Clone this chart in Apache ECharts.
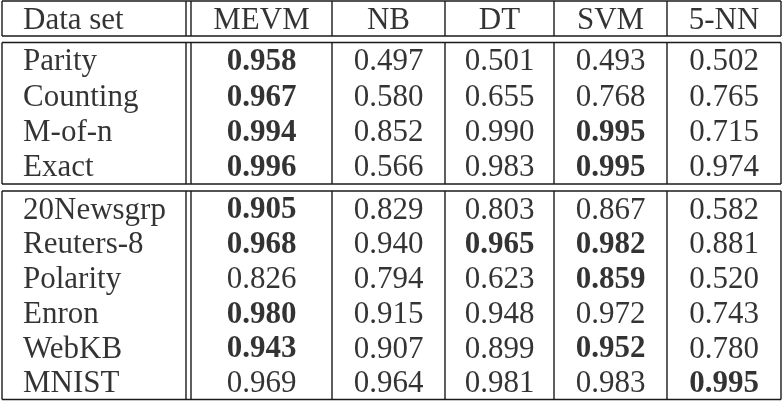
<!DOCTYPE html>
<html>
<head>
<meta charset="utf-8">
<script src="https://cdn.jsdelivr.net/npm/echarts@6/dist/echarts.min.js"></script>
<style>
html,body{margin:0;padding:0;background:#fff;}
#chart{width:783px;height:405px;}
</style>
</head>
<body>
<div id="chart"></div>
<script>
// ---- data ----
const headerFirst = 'Data set';
const methods = ['MEVM', 'NB', 'DT', 'SVM', '5-NN'];
const datasets = ['Parity', 'Counting', 'M-of-n', 'Exact', '20Newsgrp', 'Reuters-8', 'Polarity', 'Enron', 'WebKB', 'MNIST'];
const mevm = [0.958, 0.967, 0.994, 0.996, 0.905, 0.968, 0.826, 0.980, 0.943, 0.969];
const nb   = [0.497, 0.580, 0.852, 0.566, 0.829, 0.940, 0.794, 0.915, 0.907, 0.964];
const dt   = [0.501, 0.655, 0.990, 0.983, 0.803, 0.965, 0.623, 0.948, 0.899, 0.981];
const svm  = [0.493, 0.768, 0.995, 0.995, 0.867, 0.982, 0.859, 0.972, 0.952, 0.983];
const knn  = [0.502, 0.765, 0.715, 0.974, 0.582, 0.881, 0.520, 0.743, 0.780, 0.995];
// bold (best) entries per method, by dataset name
const boldMEVM = ['Parity', 'Counting', 'M-of-n', 'Exact', '20Newsgrp', 'Reuters-8', 'Enron', 'WebKB'];
const boldNB   = [];
const boldDT   = ['Reuters-8'];
const boldSVM  = ['M-of-n', 'Exact', 'Reuters-8', 'Polarity', 'WebKB'];
const boldKNN  = ['MNIST'];
const group1Size = 4; // synthetic datasets, then real ones

// ---- layout (table geometry, in the 783x405 axis space) ----
const W = 783, H = 405;
const colEdges = [2, 186, 191, 332, 445, 554, 667, 781]; // left, double rule (2), inner rules, right
const boxes = [[1, 36], [42.5, 184], [191, 399.5]];      // header, group 1, group 2 (top, bottom)
const textLeftX = 23;
const fontSize = 31;
const textDy = 2;

const valueCols = [mevm, nb, dt, svm, knn];
const boldCols = [boldMEVM, boldNB, boldDT, boldSVM, boldKNN];
const colCenters = [
  (colEdges[2] + colEdges[3]) / 2,
  (colEdges[3] + colEdges[4]) / 2,
  (colEdges[4] + colEdges[5]) / 2,
  (colEdges[5] + colEdges[6]) / 2,
  (colEdges[6] + colEdges[7]) / 2
];
function rowCenter(r) { // r = -1 header, 0..9 data rows
  if (r < 0) return (boxes[0][0] + boxes[0][1]) / 2;
  if (r < group1Size) {
    const h = (boxes[1][1] - boxes[1][0]) / group1Size;
    return boxes[1][0] + h * (r + 0.5);
  }
  const n = datasets.length - group1Size;
  const h = (boxes[2][1] - boxes[2][0]) / n;
  return boxes[2][0] + h * (r - group1Size + 0.5);
}

const FONT_FAMILY = 'Liberation Serif';
const LINE = '#1a1a1a';
const LW = 1.4;

// cell items for a scatter series with labels only
function cellItem(r, c, text, bold) {
  const left = c < 0;
  return {
    value: [left ? textLeftX : colCenters[c], rowCenter(r) + textDy],
    label: {
      formatter: text,
      align: left ? 'left' : 'center',
      fontWeight: bold ? 'bold' : 'normal'
    }
  };
}
const cells = [];
cells.push(cellItem(-1, -1, headerFirst, false));
methods.forEach((m, c) => cells.push(cellItem(-1, c, m, false)));
datasets.forEach((d, r) => {
  cells.push(cellItem(r, -1, d, false));
  valueCols.forEach((col, c) => {
    cells.push(cellItem(r, c, col[r].toFixed(3), boldCols[c].indexOf(d) >= 0));
  });
});

const chart = echarts.init(document.getElementById('chart'), null, {renderer: 'canvas'});
chart.setOption({
  animation: false,
  backgroundColor: '#ffffff',
  grid: {left: 0, right: 0, top: 0, bottom: 0},
  xAxis: {type: 'value', min: 0, max: W, show: false},
  yAxis: {type: 'value', min: 0, max: H, inverse: true, show: false},
  series: [
    {
      type: 'custom',
      silent: true,
      data: [[0]],
      renderItem: function (params, api) {
        const children = [];
        const seg = (x1, y1, x2, y2) => {
          const p1 = api.coord([x1, y1]);
          const p2 = api.coord([x2, y2]);
          children.push({
            type: 'line',
            shape: {x1: p1[0], y1: p1[1], x2: p2[0], y2: p2[1]},
            style: {stroke: LINE, lineWidth: LW}
          });
        };
        boxes.forEach(b => {
          const top = b[0], bot = b[1];
          seg(colEdges[0], top, colEdges[colEdges.length - 1], top);
          seg(colEdges[0], bot, colEdges[colEdges.length - 1], bot);
          colEdges.forEach(x => seg(x, top, x, bot));
        });
        return {type: 'group', children: children};
      }
    },
    {
      type: 'scatter',
      silent: true,
      symbol: 'circle',
      symbolSize: 1,
      itemStyle: {color: 'rgba(255,255,255,0)'},
      data: cells,
      label: {
        show: true,
        position: 'inside',
        verticalAlign: 'middle',
        color: '#000',
        fontSize: fontSize,
        fontFamily: FONT_FAMILY
      },
      labelLayout: {hideOverlap: false}
    }
  ]
});
</script>
</body>
</html>
